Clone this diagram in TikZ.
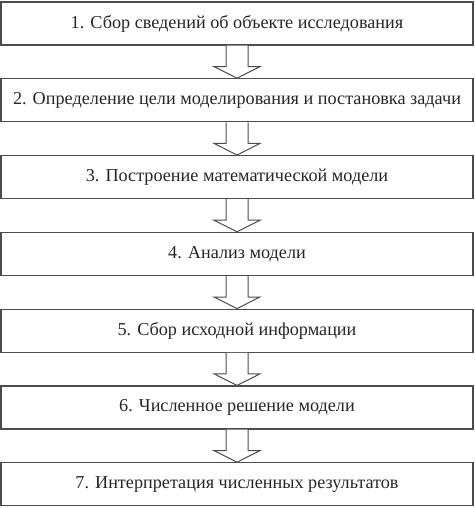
\documentclass[tikz,border=0pt]{standalone}
\usepackage{fontspec}
\setmainfont{Liberation Serif}
\begin{document}
\begin{tikzpicture}[x=1pt,y=-1pt,
  stage/.style={draw=black!70, line width=1.2pt, minimum width=472pt, minimum height=43pt, inner sep=0pt, font=\fontsize{18.2}{21}\selectfont, text=black!85},
  flow/.style={draw=black!70, line width=1pt, fill=white}]
\useasboundingbox (0,0) rectangle (474,508);
\foreach \i/\t in {1/{1. Сбор сведений об объекте исследования},
                   2/{2. Определение цели моделирования и постановка задачи},
                   3/{3. Построение математической модели},
                   4/{4. Анализ модели},
                   5/{5. Сбор исходной информации},
                   6/{6. Численное решение модели},
                   7/{7. Интерпретация численных результатов}}{
  \node[stage] (b\i) at (237, {23.5+76.8*(\i-1)}) {\t};
}
\foreach \i [count=\j from 2] in {1,...,6}{
  \draw[flow] ([xshift=-11pt]b\i.south) -- ([xshift=-11pt, yshift=-21pt]b\i.south) -- ([xshift=-23pt, yshift=-21pt]b\i.south) -- (b\j.north) -- ([xshift=23pt, yshift=-21pt]b\i.south) -- ([xshift=11pt, yshift=-21pt]b\i.south) -- ([xshift=11pt]b\i.south);
}
\end{tikzpicture}
\end{document}
